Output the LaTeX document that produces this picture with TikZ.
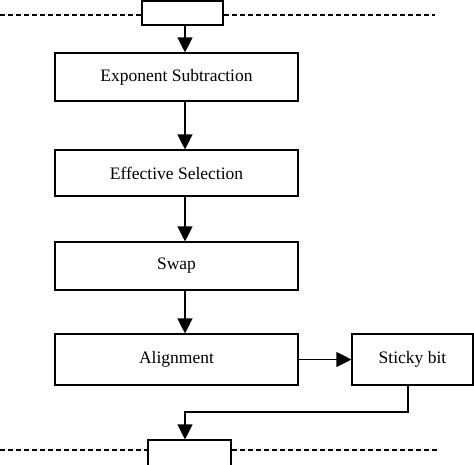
\documentclass[tikz,border=0pt]{standalone}
\usepackage{fontspec}
\setmainfont{Liberation Serif}
\usetikzlibrary{arrows.meta}

\begin{document}
\begin{tikzpicture}[line join=miter,>={Triangle[width=15pt,length=15pt]},x=1pt,y=-1pt,
	block/.style={draw,line width=1.1pt,minimum width=243pt,minimum height=48pt,inner sep=0pt,font=\fontsize{17.5}{20}\selectfont},
	link/.style={->,line width=1.1pt},
	cut/.style={line width=1.2pt,dash pattern=on 5pt off 3pt}]
					\useasboundingbox (0,0) rectangle (474,464);
					
					\clip (0,0) rectangle (474,464);
					
					% x of the down arrows
					\coordinate (ax) at (185,0);
					
					\node[draw,line width=1.1pt,minimum width=81pt,minimum height=24pt,inner sep=0pt] (inbox) at (182.5,13) {};
					
					\draw[line width=2.5pt] (inbox.north west) -- (inbox.north east);
					
					\coordinate (tl) at (0,15);
					
					\draw[cut] (tl) -- (tl -| inbox.west);
					
					\draw[cut] (tl -| inbox.east) -- (435,15);
					
					\node[block] (expsub) at (176.5,77) {Exponent Subtraction};
					
					\node[block,minimum height=46pt] (effsel) at (176.5,173) {Effective Selection};
					
					\node[block] (swap) at (176.5,266) {Swap};
					
					\node[block,minimum height=51pt] (align) at (176.5,359.5) {Alignment};
					
					\node[block,minimum width=121pt,minimum height=51pt] (sticky) at (412.5,359.5) {Sticky bit};
					
					\node[draw,line width=1.1pt,minimum width=83pt,minimum height=30pt,inner sep=0pt] (outbox) at (189.5,455) {};
					
					\coordinate (bl) at (0,450);
					
					\draw[cut] (bl) -- (bl -| outbox.west);
					
					\draw[cut] (bl -| outbox.east) -- (437,450);
					
					\draw[link] (inbox.south -| ax) -- (expsub.north -| ax);
					
					\draw[link] (expsub.south -| ax) -- (effsel.north -| ax);
					
					\draw[link] (effsel.south -| ax) -- (swap.north -| ax);
					
					\draw[link] (swap.south -| ax) -- (align.north -| ax);
					
					\draw[link] (align.east) -- (sticky.west);
					
					\coordinate (turn) at (408,412);
					
					\draw[link] (sticky.south -| turn) -- (turn) -| (outbox.north -| ax);
				\end{tikzpicture}
\end{document}
